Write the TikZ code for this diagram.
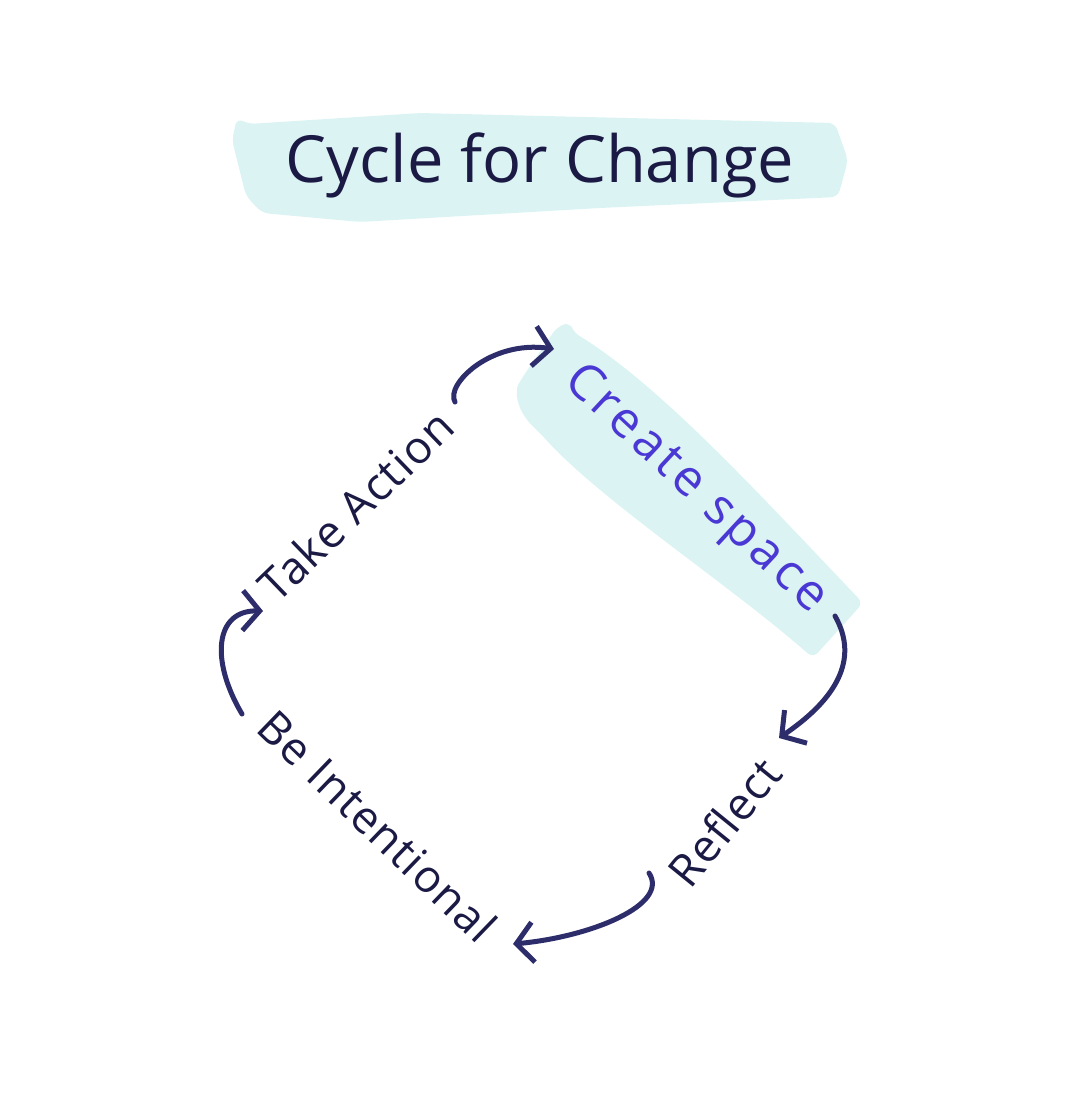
\documentclass[tikz,border=0pt]{standalone}
\usepackage{fontspec}
\setmainfont{Open Sans}
\usetikzlibrary{arrows.meta}

\definecolor{ink}{HTML}{1B1A45}
\definecolor{stroke}{HTML}{2E2D6B}
\definecolor{accent}{HTML}{4A38D4}
\definecolor{marker}{HTML}{DCF3F3}

\begin{document}
\begin{tikzpicture}[
  x=1pt, y=-1pt,
  title/.style={text=ink, inner sep=0pt, font=\fontsize{65}{70}\selectfont},
  stage/.style={text=ink, inner sep=0pt, font=\fontsize{45}{50}\selectfont\addfontfeature{LetterSpace=3}},
  focus/.style={text=accent, inner sep=0pt, font=\fontsize{50}{56}\selectfont\addfontfeature{LetterSpace=8}},
  loop/.style={-{Straight Barb[length=17pt,width=40pt,line width=5pt]}, line width=5pt,
    draw=stroke, line cap=round},
  hilite/.style={fill=marker, rounded corners=7pt}
]
\useasboundingbox (0,0) rectangle (1080,1098);

% Marker strokes behind the texts.
\fill[hilite] (237,118) -- (248,124) -- (420,113) -- (835,123) -- (848,160)
  -- (838,197) -- (600,208) -- (360,222) -- (262,213) -- (246,196) -- (232,140) -- cycle;
\fill[hilite] (557,327) -- (570,322) -- (573,332) .. controls (660,385) and (760,495)
  .. (863,603) -- (813,658) .. controls (730,585) and (600,500) .. (540,433)
  .. controls (515,410) and (515,390) .. (522,378) -- cycle;

% Title.
\node[title] (head) at (540,165) {Cycle for Change};

% The four stages of the cycle.
\node[focus, rotate=-43] (create) at (695,490) {Create space};
\node[stage, rotate=51] (reflect) at (724,822) {Reflect};
\node[stage, rotate=-44] (intent) at (378,826) {Be Intentional};
\node[stage, rotate=44] (action) at (356,505) {Take Action};

% Ends of the connecting arrows.
\coordinate (a1) at (455,402);
\coordinate (b1) at (554,349);
\coordinate (a2) at (835,616);
\coordinate (b2) at (779,738);
\coordinate (a3) at (649,873);
\coordinate (b3) at (513,944);
\coordinate (a4) at (242,714);
\coordinate (b4) at (263,611);

\draw[loop] (a1) .. controls (445,385) and (490,340) .. (b1);
\draw[loop] (a2) .. controls (860,660) and (835,700) .. (b2);
\draw[loop] (a3) .. controls (670,905) and (590,937) .. (b3);
\draw[loop] (a4) .. controls (210,660) and (215,610) .. (b4);

\end{tikzpicture}
\end{document}
